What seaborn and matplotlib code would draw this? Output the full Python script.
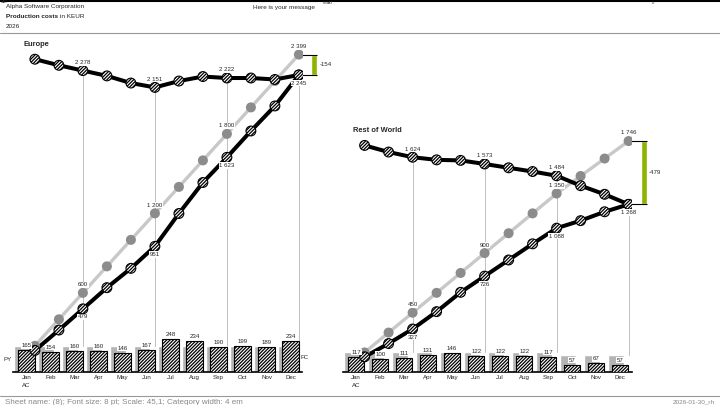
import matplotlib
matplotlib.use("Agg")
import matplotlib.pyplot as plt
import pandas as pd
import seaborn as sns

# ---- data (KEUR) ----
months = ['Jan', 'Feb', 'Mar', 'Apr', 'May', 'Jun', 'Jul', 'Aug', 'Sep', 'Oct', 'Nov', 'Dec']

eu_ac = [165, 154, 160, 160, 146, 167, 248, 234, 190, 199, 189, 234]
eu_plan = [200, 200, 200, 200, 200, 200, 200, 200, 200, 200, 200, 199]
eu_cum_ac = [165, 319, 479, 639, 785, 951, 1199, 1433, 1623, 1822, 2011, 2245]
eu_cum_plan = [200, 400, 600, 800, 1000, 1200, 1400, 1600, 1800, 2000, 2200, 2399]
eu_year_end = [2364, 2318, 2278, 2238, 2184, 2151, 2199, 2233, 2222, 2222, 2211, 2245]
eu_dev = -154

row_ac = [117, 100, 111, 131, 146, 122, 122, 122, 117, 57, 67, 57]
row_plan = [150, 150, 150, 150, 150, 150, 150, 150, 150, 132, 132, 132]
row_cum_ac = [117, 217, 327, 458, 604, 726, 848, 970, 1088, 1145, 1212, 1268]
row_cum_plan = [150, 300, 450, 600, 750, 900, 1050, 1200, 1350, 1482, 1614, 1746]
row_year_end = [1713, 1663, 1624, 1604, 1600, 1573, 1544, 1516, 1484, 1409, 1344, 1268]
row_dev = -479

quarter_idx = [2, 5, 8, 11]

sns.set_theme(style="white")
plt.rcParams['font.family'] = ['Liberation Sans', 'DejaVu Sans']
plt.rcParams['hatch.linewidth'] = 0.9

GRAY_LINE = '#c8c8c8'
GRAY_DOT = '#8c8c8c'
GRAY_BAR = '#b4b4b4'
GREEN = '#8cb400'
HATCH = '//////////'
FS = 4.4
W, H = 720, 405


def fmt(v):
    return f"{v:,}".replace(",", " ")


def lbl(ax, x, y, s, dy, va):
    ax.annotate(s, (x, y), xytext=(0, dy), textcoords='offset points',
                ha='center', va=va, fontsize=FS, zorder=8, annotation_clip=False,
                bbox=dict(boxstyle='square,pad=0.1', fc='white', ec='none'))


def draw_panel(ax, ac, plan, cum_ac, cum_plan, year_end, dev, left_labels):
    x = list(range(len(months)))
    xe = [i + 0.35 for i in x]  # end-of-month positions for cumulative lines

    # thin drop lines at quarter ends
    for i in quarter_idx:
        ax.plot([xe[i], xe[i]], [max(ac[i], plan[i]), year_end[i]],
                color='#c0c0c0', lw=0.7, zorder=1)

    # bars: plan (grey, behind) and AC (hatched)
    ax.bar([i - 0.18 for i in x], plan, width=0.667, color=GRAY_BAR, zorder=2)
    ax.bar(x, ac, width=0.667, color='white', edgecolor='black', hatch=HATCH,
           linewidth=0.8, zorder=3)
    for i, v in enumerate(ac):
        ax.annotate(fmt(v), (i, v), xytext=(0, 1.5), textcoords='offset points',
                    ha='center', va='bottom', fontsize=FS, zorder=8,
                    bbox=dict(boxstyle='square,pad=0.1', fc='white', ec='none'))

    df = pd.DataFrame({'x': xe, 'plan': cum_plan, 'ac': cum_ac, 'ye': year_end})
    sns.lineplot(data=df, x='x', y='plan', ax=ax, color=GRAY_LINE, lw=2.4, zorder=4)
    sns.scatterplot(data=df, x='x', y='plan', ax=ax, color=GRAY_DOT, s=52,
                    edgecolor='none', zorder=5)
    for col in ['ac', 'ye']:
        sns.lineplot(data=df, x='x', y=col, ax=ax, color='black', lw=2.9, zorder=4)
        sns.scatterplot(data=df, x='x', y=col, ax=ax, s=50, facecolor='white',
                        edgecolor='black', linewidth=0.8, hatch=HATCH, zorder=6)

    for i in quarter_idx:
        lbl(ax, xe[i], cum_plan[i], fmt(cum_plan[i]), 4, 'bottom')
        lbl(ax, xe[i], cum_ac[i], fmt(cum_ac[i]), -4, 'top')
        if i != 11:
            lbl(ax, xe[i], year_end[i], fmt(year_end[i]), 4, 'bottom')

    # deviation to plan at year end
    ax.bar([12.0], [cum_plan[-1] - year_end[-1]], bottom=year_end[-1], width=0.25,
           color=GREEN, zorder=3, clip_on=False)
    ax.hlines([cum_plan[-1], year_end[-1]], 11.35, 12.12, color='black', lw=0.8,
              zorder=3, clip_on=False)
    ax.text(12.2, (cum_plan[-1] + year_end[-1]) / 2, fmt(dev), ha='left', va='center',
            fontsize=FS, clip_on=False)

    ax.set_xlim(-0.55, 11.5)
    ax.set_ylim(0, 2509)
    ax.set_xticks(x)
    ax.set_xticklabels(months, fontsize=FS)
    ax.tick_params(axis='x', length=0, pad=1.6)
    ax.set_yticks([])
    ax.set_xlabel('')
    ax.set_ylabel('')
    for s in ['top', 'right', 'left']:
        ax.spines[s].set_visible(False)
    ax.spines['bottom'].set_color('black')
    ax.spines['bottom'].set_linewidth(1.2)
    ax.annotate('AC', (0, 0), xytext=(0, -9.5), textcoords='offset points',
                ha='center', va='center', fontsize=FS, annotation_clip=False)
    if left_labels:
        ax.text(-0.62, 100, 'PY', ha='right', va='center', fontsize=FS)
        ax.text(11.42, 110, 'FC', ha='left', va='center', fontsize=FS)


fig = plt.figure(figsize=(7.2, 4.05), dpi=100)
ax_eu = fig.add_axes([13.3 / W, 32.7 / H, 289.2 / W, 332.3 / H])
ax_row = fig.add_axes([343.0 / W, 32.7 / H, 289.2 / W, 332.3 / H])
draw_panel(ax_eu, eu_ac, eu_plan, eu_cum_ac, eu_cum_plan, eu_year_end, eu_dev, True)
draw_panel(ax_row, row_ac, row_plan, row_cum_ac, row_cum_plan, row_year_end, row_dev, False)

fig.text(23 / W, 1 - 45 / H, 'Europe', fontsize=5.4, weight='bold', va='center')
fig.text(353 / W, 1 - 131 / H, 'Rest of World', fontsize=5.4, weight='bold', va='center')

# header
fig.add_artist(plt.Line2D([0, 1], [1 - 1 / H, 1 - 1 / H], color='black', lw=1.5))
fig.add_artist(plt.Line2D([0, 1], [1 - 33 / H, 1 - 33 / H], color='#999999', lw=0.8))
fig.text(0.5 / W, 1 - 2 / H, 'MAT', fontsize=2.5, va='center')
fig.text(6 / W, 1 - 6.5 / H, 'Alpha Software Corporation', fontsize=4.6, va='center')
t = fig.text(6 / W, 1 - 16.5 / H, 'Production costs', fontsize=4.6, weight='bold', va='center')
fig.canvas.draw()
bb = t.get_window_extent()
fig.text((bb.x1 + 1.5) / W, 1 - 16.5 / H, 'in KEUR', fontsize=4.6, va='center')
fig.text(6 / W, 1 - 26.5 / H, '2026', fontsize=4.6, va='center')
fig.text(253 / W, 1 - 7.5 / H, 'Here is your message', fontsize=4.6, va='center')
fig.text(323 / W, 1 - 3.5 / H, '0MAT', fontsize=3, va='center')
fig.text(652 / W, 1 - 3.5 / H, '0', fontsize=3, va='center')

# footer
fig.add_artist(plt.Line2D([0, 1], [1 - 396 / H, 1 - 396 / H], color='#999999', lw=0.8))
fig.text(5 / W, 1 - 402 / H, 'Sheet name: (8); Font size: 8 pt; Scale: 45,1; Category width: 4 em',
         fontsize=5.8, color='#888888', va='center')
fig.text(715 / W, 1 - 402 / H, '2026-01-30_rh', fontsize=4.6, color='#888888',
         va='center', ha='right')

fig.savefig('out.png', dpi=100)
plt.close(fig)
